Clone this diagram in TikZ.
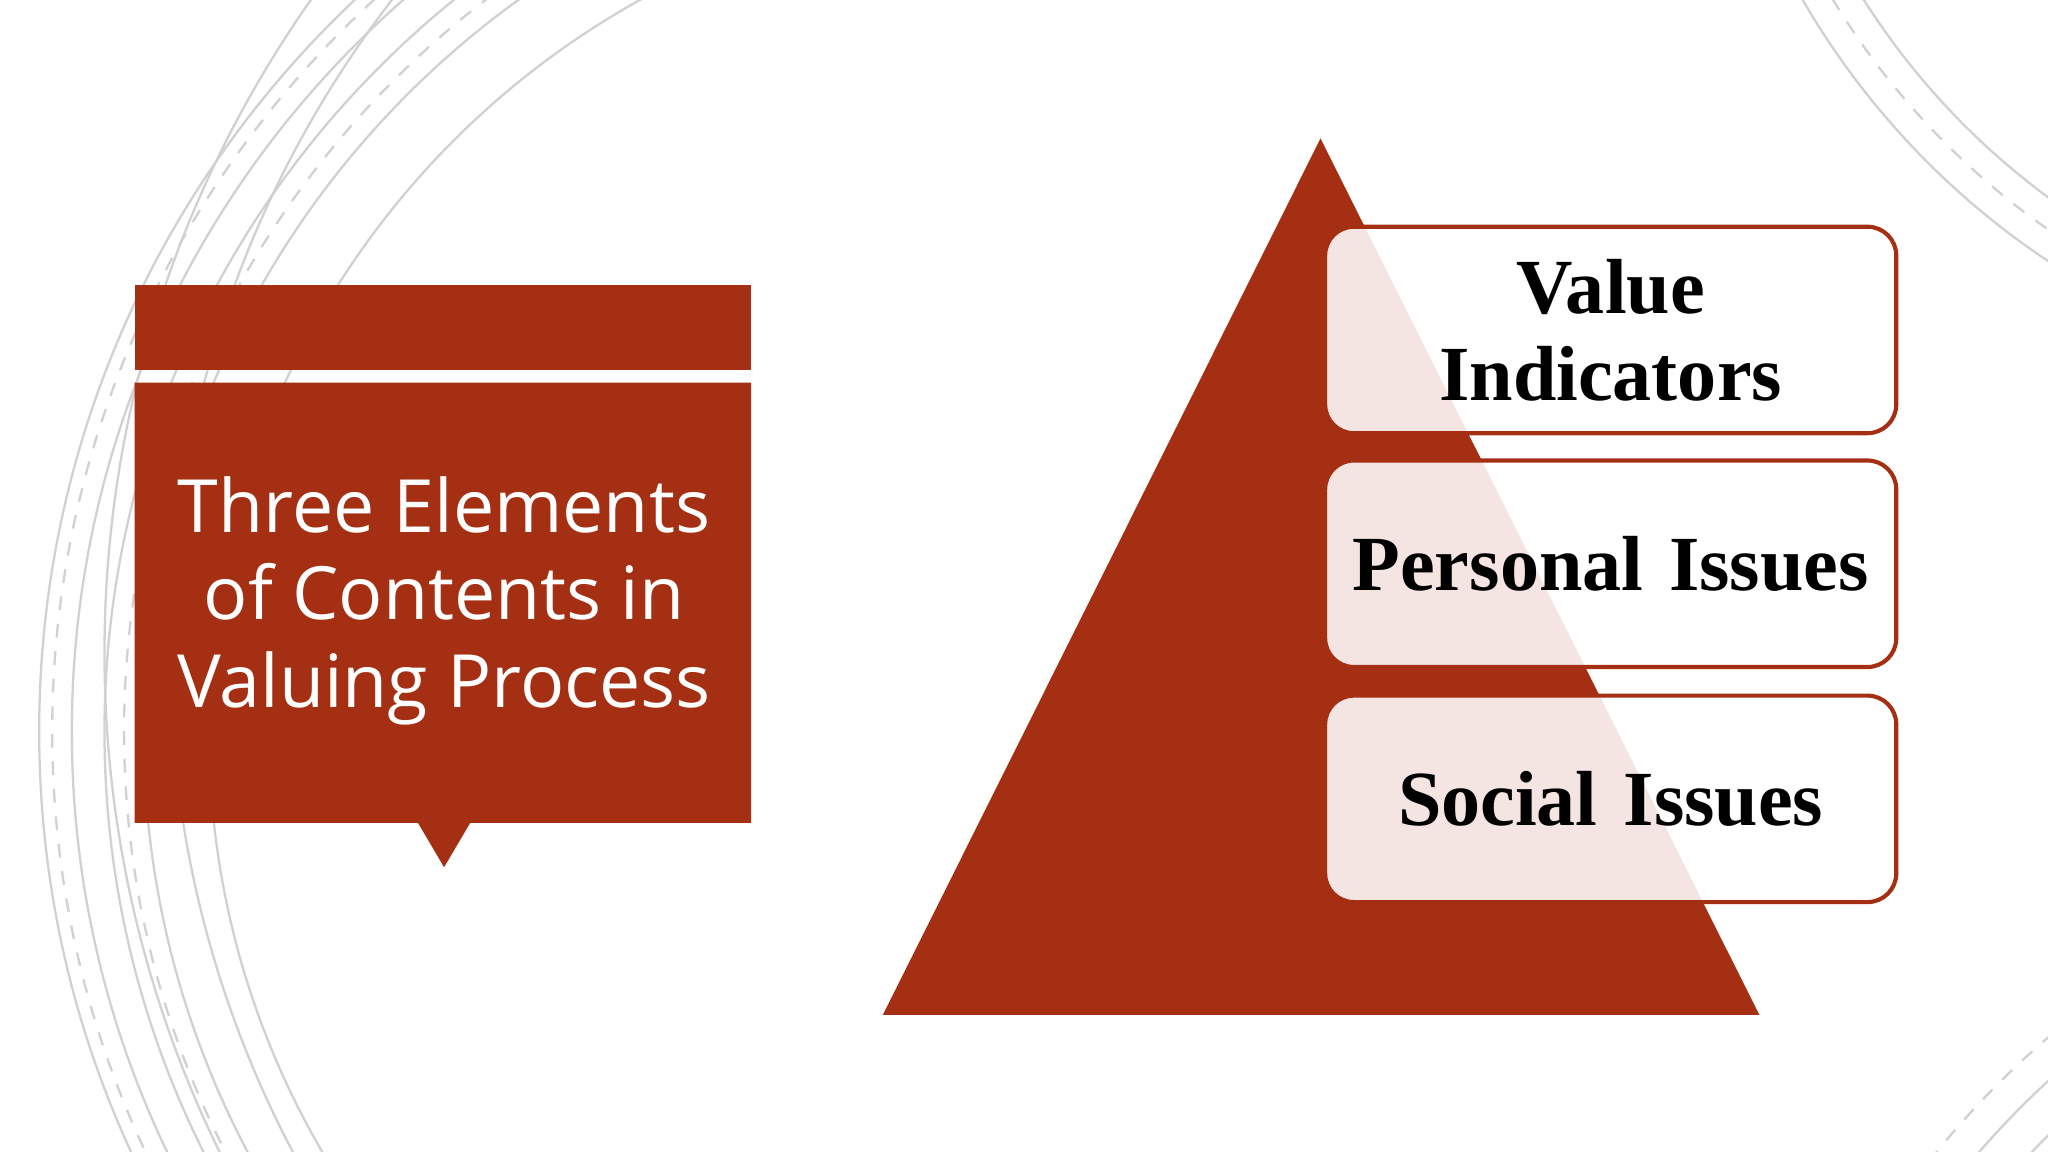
\documentclass[tikz,border=0pt]{standalone}
\usepackage{fontspec}
\setmainfont{Liberation Serif}
\newfontfamily\titlefont{Open Sans}
\definecolor{rust}{HTML}{A52F12}
\begin{document}
\begin{tikzpicture}[x=0.01cm,y=-0.01cm,
  arc/.style={draw=black!18,line width=0.5pt},
  arcd/.style={arc,dashed},
  item/.style={draw=rust,line width=0.9pt,fill=white,fill opacity=0.88,text opacity=1,rounded corners=0.22cm,minimum width=4.37cm,minimum height=1.58cm,text width=4.1cm,align=center,font=\bfseries\fontsize{17}{19}\selectfont,anchor=north west}]
\useasboundingbox (0,0) rectangle (1568,882);
\begin{scope}
\clip (0,0) rectangle (1568,882);
\foreach \r in {640,690,720,745,770} \draw[arc] (800,560) ++(90:\r) arc[start angle=90,end angle=270,radius=\r];
\foreach \r in {705,760} \draw[arcd] (800,560) ++(90:\r) arc[start angle=90,end angle=270,radius=\r];
\foreach \r in {820,870} \draw[arc] (950,500) ++(90:\r) arc[start angle=90,end angle=270,radius=\r];
\foreach \r in {550,580,610,640} \draw[arc] (2000,1300) circle (\r);
\draw[arcd] (2000,1300) circle (665);
\foreach \r in {560,600} \draw[arc] (1900,-300) circle (\r);
\draw[arcd] (1900,-300) circle (580);
\end{scope}
\fill[rust] (103,218) rectangle (575,283);
\fill[rust] (103,293) -- (575,293) -- (575,630) -- (360,630) -- (340,664) -- (320,630) -- (103,630) -- cycle;
\node[text=white,align=center,font=\titlefont\fontsize{16}{19}\selectfont] (title) at (340,460) {Three Elements\\of Contents in\\Valuing Process};
\fill[rust] (1011,106) coordinate (apex) -- (1347,777) -- (676,777) -- cycle;
\node[item] (v) at (1013,172) {Value\\Indicators};
\node[item] (p) at (1013,351) {Personal Issues};
\node[item] (s) at (1013,531) {Social Issues};
\end{tikzpicture}
\end{document}
